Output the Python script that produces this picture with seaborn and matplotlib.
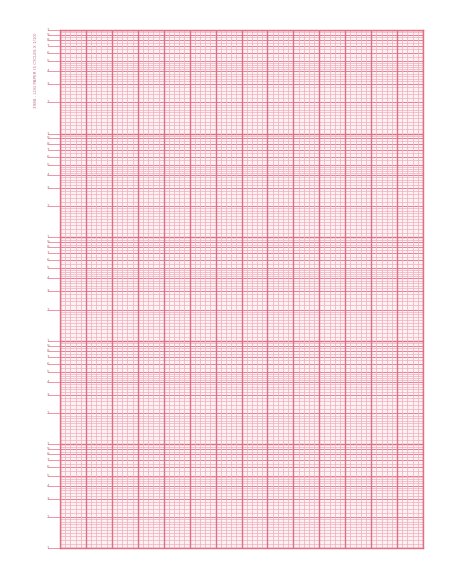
import matplotlib
matplotlib.use("Agg")
import matplotlib.pyplot as plt
import seaborn as sns
import numpy as np

# log cycles and labels on the paper
n_cycles = 5
digit_labels = ["1", "2", "3", "4", "5", "6", "7", "8", "9"]
digit_values = [1, 2, 3, 4, 5, 6, 7, 8, 9]
n_major_cols = 14
minor_per_major = 5
paper_title = "3988 - LOG PAPER (5 CYCLES X 1/10)"

RED = "#de6f84"
LIGHT = "#f0b0bd"

sns.set_theme(style="white")
plt.rcParams["font.family"] = ["DejaVu Sans"]

fig = plt.figure(figsize=(4.74, 5.78), dpi=100)
ax = fig.add_axes([60 / 474, 30 / 578, 363 / 474, 518 / 578])
ax.set_yscale("log")
ax.set_ylim(1, 10 ** n_cycles)
ax.set_xlim(0, n_major_cols)
ax.set_facecolor("#fdf1f3")

# horizontal log grid
fine = list(np.arange(1, 2, 0.1)) + list(np.arange(2, 5, 0.2)) + list(np.arange(5, 10, 0.5))
for c in range(n_cycles):
    base = 10 ** c
    for v in fine:
        y = v * base
        if abs(v - round(v)) < 1e-9:
            ax.axhline(y, color=RED, lw=0.6)
        else:
            ax.axhline(y, color=LIGHT, lw=0.5)
    ax.axhline(base, color=RED, lw=1.0)
ax.axhline(10 ** n_cycles, color=RED, lw=1.0)

# vertical linear grid
for i in range(n_major_cols * minor_per_major + 1):
    x = i / minor_per_major
    if i % minor_per_major == 0:
        ax.axvline(x, color=RED, lw=1.0)
    else:
        ax.axvline(x, color=LIGHT, lw=0.55)

# ticks and labels on the left
ax.set_xticks([])
ax.set_yticks([])
ax.minorticks_off()
for c in range(n_cycles):
    base = 10 ** c
    for v, lab in zip(digit_values, digit_labels):
        ax.annotate(lab, xy=(0, v * base), xytext=(-8, 0), textcoords="offset points",
                    ha="right", va="center", fontsize=3, color="#c07080",
                    annotation_clip=False)
        ax.plot([-0.45, 0], [v * base, v * base], color=RED, lw=0.5, clip_on=False)
ax.annotate("1", xy=(0, 10 ** n_cycles), xytext=(-8, 0), textcoords="offset points",
            ha="right", va="center", fontsize=3, color="#c07080", annotation_clip=False)
ax.plot([-0.45, 0], [10 ** n_cycles] * 2, color=RED, lw=0.5, clip_on=False)

fig.text(36 / 474, 1 - 70 / 578, paper_title, rotation=90, fontsize=3,
         color="#c07080", ha="center", va="center")

for s in ax.spines.values():
    s.set_color(RED)
    s.set_linewidth(1.0)

fig.savefig("out.png", dpi=100, facecolor="white")
